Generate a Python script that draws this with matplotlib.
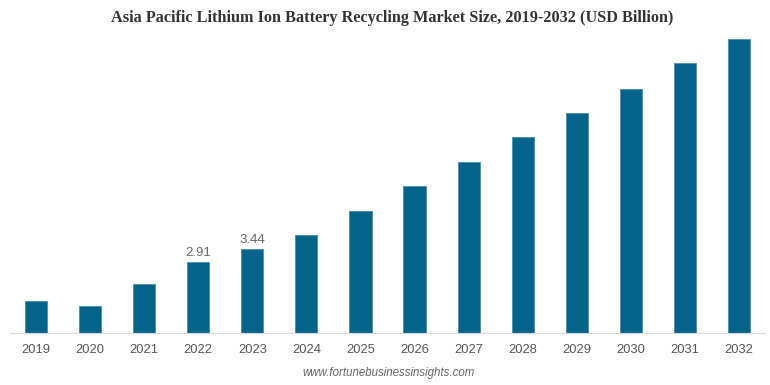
import matplotlib.pyplot as plt

# data
years = ["2019", "2020", "2021", "2022", "2023", "2024", "2025",
         "2026", "2027", "2028", "2029", "2030", "2031", "2032"]
market_size = [1.31, 1.10, 2.00, 2.91, 3.44, 4.00, 4.99,
               6.01, 7.01, 8.02, 9.01, 10.00, 11.03, 12.02]
labelled_years = ["2022", "2023"]

W, H = 770, 385
fig = plt.figure(figsize=(W / 100, H / 100), dpi=100)
ax = fig.add_axes([10 / W, (H - 333) / H, 755 / W, 303 / H])

x = list(range(len(years)))
ax.bar(x, market_size, width=0.41, color="#05638A", edgecolor="#4a8fae", linewidth=0.6)

for i, (yr, v) in enumerate(zip(years, market_size)):
    if yr in labelled_years:
        ax.text(i, v + 0.12, f"{v:.2f}", ha="center", va="bottom",
                fontsize=9.5, color="#666666", family="Liberation Sans")

ax.set_xlim(-0.48, len(years) - 0.52)
ax.set_ylim(0, 303 / 24.45)
ax.set_xticks(x)
ax.set_xticklabels(years, fontsize=9.3, color="#555555", family="Liberation Sans")
ax.tick_params(axis="x", length=0, pad=8)
ax.set_yticks([])
for s in ["top", "right", "left"]:
    ax.spines[s].set_visible(False)
ax.spines["bottom"].set_color("#d9d9d9")

fig.text(392 / W, 1 - 18 / H,
         "Asia Pacific Lithium Ion Battery Recycling Market Size, 2019-2032 (USD Billion)",
         ha="center", va="center", fontsize=11.7, fontweight="bold",
         family="Liberation Serif", color="#333333")
fig.text(389 / W, 1 - 373 / H, "www.fortunebusinessinsights.com",
         ha="center", va="center", fontsize=8.3, style="italic",
         family="Liberation Sans", color="#666666")

fig.savefig("out.png", dpi=100)
